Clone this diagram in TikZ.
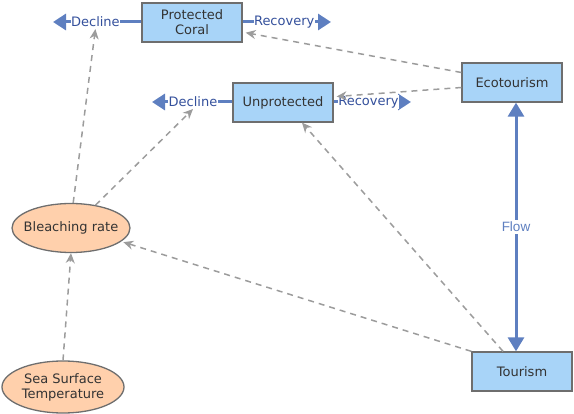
\documentclass[tikz,border=0pt]{standalone}
\usepackage{fontspec}
\setmainfont{DejaVu Sans}
\newfontfamily\flowfont{Liberation Sans}
\usepackage{tikz}
\usetikzlibrary{arrows.meta,shapes.geometric}
\definecolor{stockfill}{HTML}{A8D4F8}
\definecolor{auxfill}{HTML}{FFD0AC}
\definecolor{edgegray}{HTML}{6E6E6E}
\definecolor{flowblue}{HTML}{5E7FC0}
\definecolor{labelblue}{HTML}{34509C}
\definecolor{linkgray}{HTML}{9C9C9C}
\tikzset{
  % Stile per i serbatoi (rettangoli)
  stock/.style={
    draw=edgegray, line width=1.3pt, fill=stockfill,
    minimum width=100pt, minimum height=39pt,
    align=center, text=black!80,
    font=\fontsize{13}{15}\selectfont
  },
  % Stile per le variabili ausiliarie (ellissi)
  aux/.style={
    ellipse, draw=edgegray, line width=1.3pt, fill=auxfill,
    inner xsep=-12pt, inner ysep=-6pt, align=center, text=black!80,
    font=\fontsize{13}{15}\selectfont
  },
  % Stile per i flussi
  flow/.style={
    draw=flowblue, line width=3pt,
    -{Triangle[length=13pt,width=16pt]}
  },
  flow label/.style={
    fill=white, text=labelblue, inner sep=0.5pt,
    font=\fontsize{13}{15}\selectfont
  },
  % Stile per i collegamenti tratteggiati
  link/.style={
    draw=linkgray, line width=1.5pt, dash pattern=on 6pt off 5pt,
    -{Stealth[length=10pt,width=9pt]}
  }
}

\begin{document}
\begin{tikzpicture}[x=1pt, y=-1pt]
  \useasboundingbox (0,0) rectangle (574,414);

  % Serbatoi
  \node[stock] (pc) at (192,22.5) {Protected\\Coral};
  \node[stock] (up) at (283,102.5) {Unprotected};
  \node[stock] (eco) at (512,82.5) {Ecotourism};
  \node[stock] (tour) at (522,371.5) {Tourism};

  % Variabili ausiliarie
  \node[aux, minimum width=118pt, minimum height=49pt] (br) at (71,228) {Bleaching rate};
  \node[aux, minimum width=122pt, minimum height=52pt] (sst) at (63,387) {Sea Surface\\Temperature};

  % Estremi dei flussi
  \coordinate (pcL) at (53,22);
  \coordinate (pcR) at (331,22);
  \coordinate (upL) at (152,102);
  \coordinate (upR) at (411,102);

  % Flussi
  \draw[flow] (pc.west |- pcL) -- (pcL) node[flow label, pos=0.52] (dc1) {Decline};
  \draw[flow] (pc.east |- pcR) -- (pcR) node[flow label, pos=0.47] (rc1) {Recovery};
  \draw[flow] (up.west |- upL) -- (upL) node[flow label, pos=0.49] (dc2) {Decline};
  \draw[flow] (up.east |- upR) -- (upR) node[flow label, pos=0.45] (rc2) {Recovery};

  % Flusso turistico (doppio)
  \draw[flow, {Triangle[length=14pt,width=16pt]}-{Triangle[length=14pt,width=16pt]}]
    (eco.south -| 516,0) -- (tour.north -| 516,0)
    node[pos=0.5, fill=white, text=flowblue, inner sep=2pt, font=\flowfont\fontsize{13.5}{15}\selectfont] (fl) {Flow};

  % Collegamenti
  \draw[link] (br.85) -- (dc1.south);
  \draw[link] (br.43) -- (dc2.south);
  \draw[link] (sst.north) -- (br.south);
  \draw[link] (tour.north west) -- ([xshift=3pt]br.-16);
  \draw[link] ([xshift=-19pt]tour.north) -- ([xshift=19pt]up.south);
  \draw[link] ([yshift=10pt]eco.west) -- ([xshift=3pt,yshift=10pt]pc.south east);
  \draw[link] ([yshift=-5pt]eco.west) -- ([xshift=3pt,yshift=6pt]up.east);
\end{tikzpicture}
\end{document}
